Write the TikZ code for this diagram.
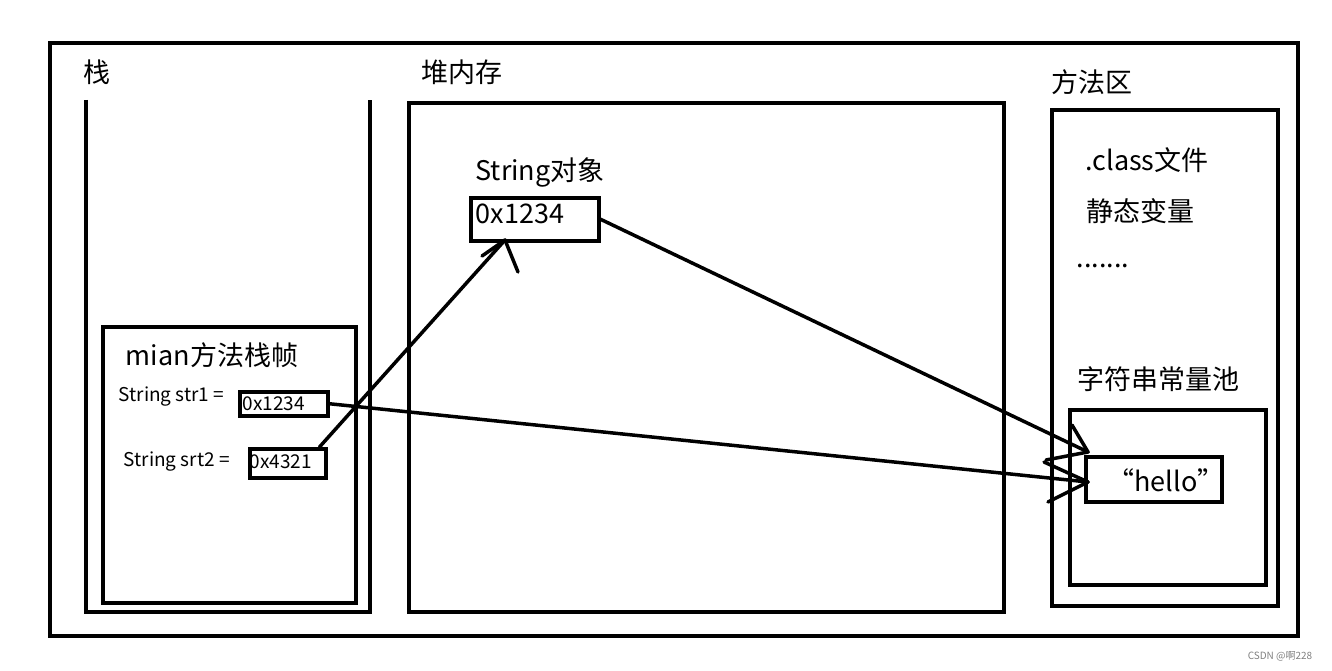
\documentclass[tikz,border=0pt]{standalone}
\usepackage{fontspec}
\setmainfont{Noto Sans CJK SC}
\begin{document}
\begin{tikzpicture}[x=1pt,y=-1pt,line width=3.5pt,
  big/.style={font=\fontsize{27}{30}\selectfont,inner sep=0pt},
  small/.style={font=\fontsize{19}{22}\selectfont,inner sep=0pt},
  bx/.style={draw,line width=3.5pt},
  arr/.style={line width=3.5pt,line cap=round,line join=round}]
\useasboundingbox (0,0) rectangle (1332,671);
\draw[bx] (50,43) rectangle (1298,636);
% stack
\draw (86,100) -- (86,612) -- (370,612) -- (370,100);
\draw[bx] (103,327) rectangle (356,603);
\draw[bx] (409,103) rectangle (1004,612);
\draw[bx] (1052,110) rectangle (1278,606);
\draw[bx] (1070,410) rectangle (1266,585);
\node[bx,minimum width=136pt,minimum height=45pt,anchor=north west,font=\fontsize{27}{30}\selectfont] (hello) at (1084,455) {};
\node[big] at (1166,480) {“hello”};
\node[bx,minimum width=88pt,minimum height=24pt,anchor=north west] (a1) at (238,390) {};
\node[small,anchor=west] at (241,404) {0x1234};
\node[bx,minimum width=76pt,minimum height=29pt,anchor=north west] (a2) at (248,447) {};
\node[small,anchor=west] at (248,462) {0x4321};
\node[bx,minimum width=128pt,minimum height=43pt,anchor=north west] (obj) at (469,196) {};
\node[big,anchor=west] at (474,214) {0x1234};
\node[big] (t1) at (97,72) {栈};
\node[big] (t2) at (462,72) {堆内存};
\node[big] (t3) at (1092,82) {方法区};
\node[big] (t4) at (540,172) {String对象};
\node[big] (t5) at (1147,160) {.class文件};
\node[big] (t6) at (1140,211) {静态变量};
\node[big] (t7) at (1103,266) {.......};
\node[big] (t8) at (1158,379) {字符串常量池};
\node[big] (t9) at (212,355) {mian方法栈帧};
\node[small,anchor=west] (t10) at (117,397) {String str1 =};
\node[small,anchor=west] (t11) at (122,462) {String srt2 =};
% arrows
\coordinate (p1) at (505,240);
\draw[arr] (a2.north east) ++(-8,0) -- (p1);
\draw[arr] (482,256) -- (p1) -- (518,272);
\coordinate (p2) at (1088,452);
\draw[arr] (obj.east) -- (p2);
\draw[arr] (1072,425) -- (p2) -- (1046,460);
\coordinate (p3) at (1088,482);
\draw[arr] (a1.east) -- (p3);
\draw[arr] (1044,462) -- (p3) -- (1048,502);
\node[font=\fontsize{10}{12}\selectfont,text=gray] at (1280,656) {CSDN @啊228};
\end{tikzpicture}
\end{document}
